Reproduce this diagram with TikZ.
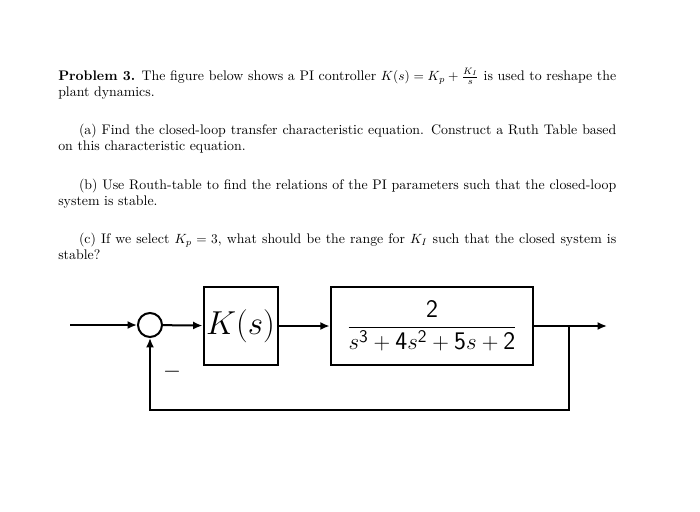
\documentclass[tikz,border=0pt]{standalone}
\usepackage{amsmath}
\usetikzlibrary{arrows.meta}
\begin{document}
\begin{tikzpicture}[x=0.75pt,y=-0.75pt,
  para/.style={anchor=north west,text width=418.5pt,inner sep=0pt,align=justify,font=\fontsize{10.4}{12}\selectfont},
  blk/.style={draw,line width=1.5pt,inner sep=0pt},
  sig/.style={line width=1.5pt,-{Latex[length=7pt,width=6pt]}},
  ln/.style={line width=1.5pt}]
\useasboundingbox (0,0) rectangle (700,511);
\node[para] (p1) at (58,68) {\textbf{Problem 3.} The figure below shows a PI controller $K(s)=K_p+\frac{K_I}{s}$ is used to reshape the plant dynamics.};
\node[para] (p2) at (58,124) {\hspace*{1.5em}(a) Find the closed-loop transfer characteristic equation. Construct a Ruth Table based on this characteristic equation.};
\node[para] (p3) at (58,179) {\hspace*{1.5em}(b) Use Routh-table to find the relations of the PI parameters such that the closed-loop system is stable.};
\node[para] (p4) at (58,233) {\hspace*{1.5em}(c) If we select $K_p=3$, what should be the range for $K_I$ such that the closed system is stable?};
\coordinate (in) at (70,325);
\node[draw,circle,line width=1.5pt,minimum size=18pt,inner sep=0pt] (sum) at (150,325) {};
\node[blk,minimum width=55.5pt,minimum height=58pt] (K) at (240.5,326) {\fontsize{23}{25}\selectfont$K(s)$};
\node[blk,minimum width=152pt,minimum height=58pt] (G) at (432,326) {\fontsize{19}{21}\selectfont\sffamily$\dfrac{\textsf{2}}{s^{\textsf{3}}+\textsf{4}s^{\textsf{2}}+\textsf{5}s+\textsf{2}}$};
\coordinate (tap) at (569,326);
\coordinate (out) at (607,326);
\coordinate (fb1) at (569,410);
\coordinate (fb2) at (150,410);
\draw[sig] (in) -- (sum);
\draw[sig] (sum) -- (K);
\draw[sig] (K) -- (G);
\draw[sig] (G.east) -- (out);
\draw[sig] (tap) -- (fb1) -- (fb2) -- (sum);
\node[font=\fontsize{16}{16}\selectfont] (minus) at (172,372) {$-$};
\end{tikzpicture}
\end{document}
